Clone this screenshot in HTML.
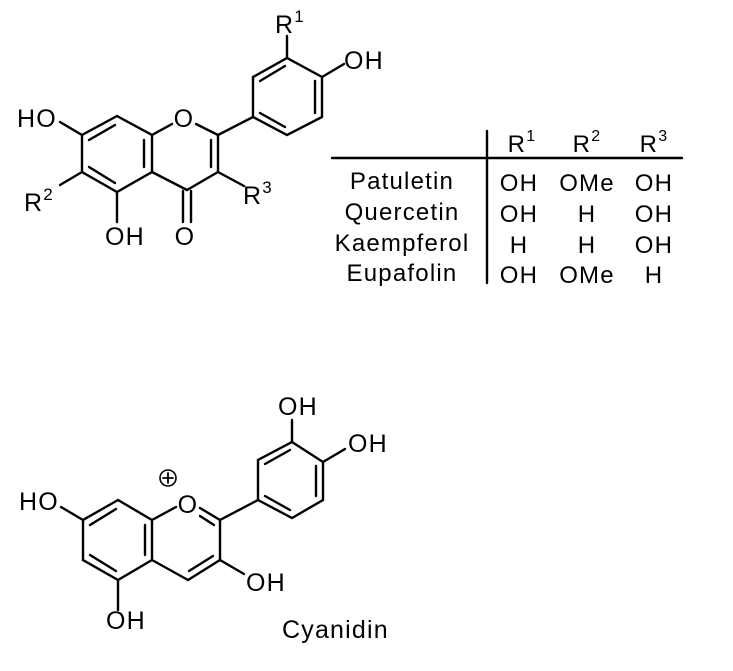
<!DOCTYPE html>
<html><head><meta charset="utf-8"><style>
html,body{margin:0;padding:0;background:#fff;}
svg{display:block;}
text{font-family:"Liberation Sans",sans-serif;fill:#000;letter-spacing:1.2px;}
</style></head><body>
<svg width="733" height="671" viewBox="0 0 733 671" xmlns="http://www.w3.org/2000/svg">
<g stroke="#000" stroke-width="2.4" fill="none" stroke-linecap="round">
<polyline points="117,116 82,135 82,172 117,192 152,172 152,135 117,116"/>
<line x1="89" y1="140" x2="115" y2="125"/>
<line x1="89" y1="167" x2="115" y2="183"/>
<line x1="144" y1="140" x2="144" y2="167"/>
<line x1="152" y1="135" x2="172" y2="124"/>
<line x1="196" y1="124" x2="218" y2="135"/>
<line x1="218" y1="135" x2="218" y2="172"/>
<line x1="211" y1="140" x2="211" y2="167"/>
<line x1="218" y1="172" x2="187" y2="190"/>
<line x1="187" y1="190" x2="152" y2="172"/>
<line x1="183" y1="191" x2="183" y2="222"/>
<line x1="191" y1="191" x2="191" y2="222"/>
<line x1="218" y1="172" x2="244" y2="186"/>
<line x1="117" y1="192" x2="117" y2="222"/>
<line x1="82" y1="172" x2="60" y2="185"/>
<line x1="82" y1="135" x2="60" y2="122"/>
<line x1="218" y1="135" x2="253" y2="117"/>
<polyline points="253,117 253,77 287,58 322,77 322,117 287,135 253,117"/>
<line x1="260" y1="81" x2="285" y2="66"/>
<line x1="315" y1="81" x2="315" y2="113"/>
<line x1="260" y1="113" x2="285" y2="127"/>
<line x1="287" y1="58" x2="287" y2="36"/>
<line x1="322" y1="77" x2="344" y2="64"/>
<line x1="332" y1="158" x2="682" y2="158"/>
<line x1="487" y1="131" x2="487" y2="283"/>

<polyline points="118,500 83,520 83,560 118,580 152,560 152,520 118,500"/>
<line x1="90" y1="525" x2="116" y2="509"/>
<line x1="90" y1="555" x2="116" y2="571"/>
<line x1="145" y1="525" x2="145" y2="555"/>
<line x1="152" y1="520" x2="176" y2="507"/>
<line x1="200" y1="508" x2="220" y2="520"/>
<line x1="200" y1="516" x2="214" y2="525"/>
<line x1="220" y1="520" x2="220" y2="560"/>
<line x1="220" y1="560" x2="188" y2="580"/>
<line x1="213" y1="556" x2="189" y2="571"/>
<line x1="188" y1="580" x2="152" y2="560"/>
<line x1="118" y1="580" x2="118" y2="610"/>
<line x1="83" y1="520" x2="61" y2="507"/>
<line x1="220" y1="560" x2="244" y2="574"/>
<line x1="220" y1="520" x2="258" y2="500"/>
<polyline points="258,500 258,460 292,442 323,462 323,500 292,518 258,500"/>
<line x1="265" y1="464" x2="290" y2="450"/>
<line x1="316" y1="466" x2="316" y2="496"/>
<line x1="265" y1="496" x2="290" y2="510"/>
<line x1="292" y1="442" x2="292" y2="420"/>
<line x1="323" y1="462" x2="345" y2="449"/>
<circle cx="168" cy="478" r="8" stroke-width="1.6"/>
<line x1="163" y1="478" x2="173" y2="478" stroke-width="1.8"/>
<line x1="168" y1="473" x2="168" y2="483" stroke-width="1.8"/>
</g>
<g font-size="25">
<text x="17" y="127">HO</text>
<text x="184" y="127" text-anchor="middle">O</text>
<text x="24" y="211">R<tspan font-size="17" dy="-11">2</tspan></text>
<text x="243" y="204">R<tspan font-size="17" dy="-11">3</tspan></text>
<text x="105" y="245">OH</text>
<text x="185" y="245" text-anchor="middle">O</text>
<text x="275" y="33">R<tspan font-size="17" dy="-11">1</tspan></text>
<text x="344" y="69">OH</text>

<text x="19" y="510">HO</text>
<text x="188" y="513" text-anchor="middle">O</text>
<text x="246" y="591">OH</text>
<text x="106" y="629">OH</text>
<text x="278" y="415">OH</text>
<text x="348" y="452">OH</text>
<text x="282" y="638">Cyanidin</text>
</g>
<g font-size="24" text-anchor="middle">
<text x="522" y="152">R<tspan font-size="16" dy="-11">1</tspan></text>
<text x="587" y="152">R<tspan font-size="16" dy="-11">2</tspan></text>
<text x="654" y="152">R<tspan font-size="16" dy="-11">3</tspan></text>
<text x="402" y="189">Patuletin</text>
<text x="402" y="220">Quercetin</text>
<text x="402" y="251">Kaempferol</text>
<text x="402" y="281">Eupafolin</text>
<text x="519" y="191">OH</text><text x="587" y="191">OMe</text><text x="654" y="191">OH</text>
<text x="519" y="222">OH</text><text x="587" y="222">H</text><text x="654" y="222">OH</text>
<text x="519" y="253">H</text><text x="587" y="253">H</text><text x="654" y="253">OH</text>
<text x="519" y="283">OH</text><text x="587" y="283">OMe</text><text x="654" y="283">H</text>
</g>
</svg>
</body></html>
